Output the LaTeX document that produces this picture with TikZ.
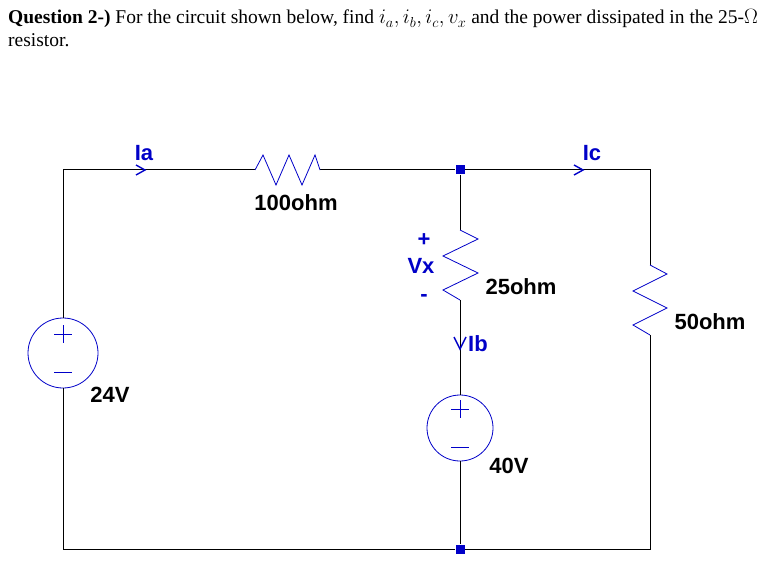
\documentclass[tikz,border=0pt]{standalone}
\usepackage{fontspec}
\setmainfont{Liberation Serif}
\newfontfamily\lbl{Liberation Sans}
\usetikzlibrary{positioning,calc}
\definecolor{spblue}{RGB}{0,0,200}
\tikzset{
  wire/.style={black,line width=1pt},
  part/.style={spblue,line width=0.8pt},
  junc/.style={fill=spblue,minimum size=9pt,inner sep=0pt},
  val/.style={font=\lbl\bfseries\fontsize{22}{22}\selectfont,black},
  tag/.style={font=\lbl\bfseries\fontsize{22}{22}\selectfont,spblue},
  chev/.style={spblue,line width=1.4pt}
}
\begin{document}
\begin{tikzpicture}[x=1pt,y=-1pt]
\useasboundingbox (0,0) rectangle (775,577);
% question text
\node[anchor=base west,inner sep=0,font=\fontsize{19.5}{19.5}\selectfont] (q1) at (8,24)
  {\textbf{Question 2-)} For the circuit shown below, find $i_a, i_b, i_c, v_x$ and the power dissipated in the 25-$\Omega$};
\node[anchor=base west,inner sep=0,font=\fontsize{19.5}{19.5}\selectfont] (q2) at (8,47) {resistor.};
% corners and junctions
\coordinate (tl) at (63,170);
\coordinate (bl) at (63,549);
\coordinate (tr) at (650,170);
\coordinate (br) at (650,549);
\node[junc] (jt) at (460,170) {};
\node[junc] (jb) at (460,549) {};
% sources
\node[circle,draw=spblue,line width=0.8pt,minimum size=70pt,inner sep=0] (v1) at (63,353) {};
\node[circle,draw=spblue,line width=0.8pt,minimum size=66pt,inner sep=0] (v2) at (460,428) {};
\foreach \s in {v1,v2}{
  \draw[part] ($(\s)+(-9,-19)$) -- +(18,0) ($(\s)+(0,-28)$) -- +(0,18);
  \draw[part] ($(\s)+(-9,19)$) -- +(18,0);
}
% wires
\draw[wire] (v1.north) -- (tl) -- (255,170);
\draw[wire] (320,170) -- (jt) -- (tr) -- (650,265);
\draw[wire] (650,335) -- (br) -- (jb) -- (bl) -- (v1.south);
\draw[wire] (jt) -- (460,230);
\draw[wire] (460,300) -- (v2.north);
\draw[wire] (v2.south) -- (jb);
% resistors
\draw[part] (255,170) -- (263,155) -- (276,185) -- (289,155) -- (302,185) -- (315,155) -- (320,170);
\draw[part] (460,230) -- (478,239) -- (443,256) -- (478,273) -- (443,290) -- (460,300);
\draw[part] (650,265) -- (667,274) -- (633,291) -- (667,308) -- (633,325) -- (650,335);
% current arrows
\draw[chev] (136,165) -- (145,170) -- (136,175);
\draw[chev] (574,165) -- (583,170) -- (574,175);
\draw[chev] (454,337) -- (460,349) -- (466,337);
% labels
\node[tag] (ia) at (144,153) {Ia};
\node[tag] (ic) at (592,153) {Ic};
\node[tag] (ib) at (478,344) {Ib};
\node[tag] (vx) at (421,266) {Vx};
\node[tag] (vp) at (424,240) {+};
\node[tag] (vm) at (424,298) {-};
\node[val] (r1) at (296,203) {100ohm};
\node[val] (r2) at (521,287) {25ohm};
\node[val] (r3) at (710,322) {50ohm};
\node[val] (s1) at (110,395) {24V};
\node[val] (s2) at (509,466) {40V};
\end{tikzpicture}
\end{document}
